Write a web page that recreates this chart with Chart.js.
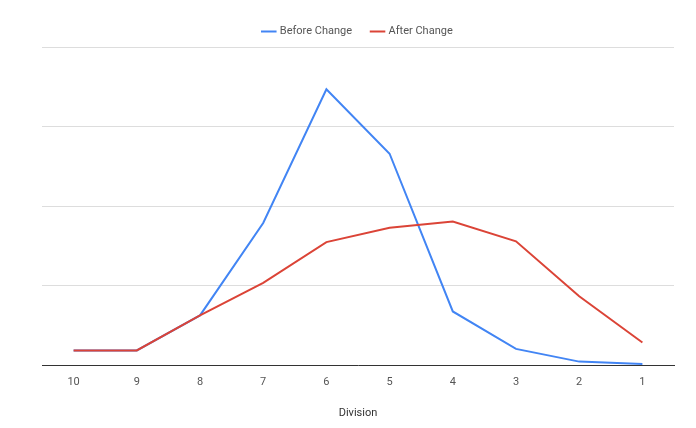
<!DOCTYPE html>
<html><head><meta charset="utf-8">
<script src="https://cdn.jsdelivr.net/npm/chart.js@4/dist/chart.umd.min.js"></script>
<style>html,body{margin:0;background:#fff}#wrap{width:696px;height:428px}</style>
</head><body><div id="wrap"><canvas id="c"></canvas></div>
<script>
const divisions = ["10","9","8","7","6","5","4","3","2","1"];
const beforeChange = [0.19, 0.19, 0.63, 1.79, 3.47, 2.66, 0.68, 0.21, 0.05, 0.02];
const afterChange = [0.19, 0.19, 0.63, 1.04, 1.55, 1.73, 1.81, 1.56, 0.87, 0.29];

new Chart(document.getElementById("c"), {
  type: "line",
  data: {
    labels: divisions,
    datasets: [
      { label: "Before Change", data: beforeChange, borderColor: "#4285f4", backgroundColor: "#4285f4", borderWidth: 2, pointRadius: 0, tension: 0, order: 2 },
      { label: "After Change", data: afterChange, borderColor: "#db4437", backgroundColor: "#db4437", borderWidth: 2, pointRadius: 0, tension: 0, order: 1 }
    ]
  },
  options: {
    responsive: true,
    maintainAspectRatio: false,
    animation: false,
    layout: { padding: { left: 42, right: 22, top: 6, bottom: 8 } },
    plugins: {
      legend: {
        display: true,
        position: "top",
        labels: {
          usePointStyle: true, pointStyle: "line", boxWidth: 14,
          font: { family: "Roboto", size: 11 }, color: "#555", padding: 20,
          sort: (a, b) => a.datasetIndex - b.datasetIndex
        }
      },
      tooltip: { enabled: false }
    },
    scales: {
      x: {
        offset: true,
        grid: { display: false, drawTicks: false },
        border: { color: "#333" },
        ticks: { font: { family: "Roboto", size: 11 }, color: "#555", padding: 10 },
        title: { display: true, text: "Division", font: { family: "Roboto", size: 11 }, color: "#333", padding: { top: 8, bottom: 0 } }
      },
      y: {
        min: 0, max: 4,
        ticks: { stepSize: 1, display: false },
        grid: { color: "#ddd", drawTicks: false },
        border: { display: false }
      }
    }
  }
});
</script></body></html>
